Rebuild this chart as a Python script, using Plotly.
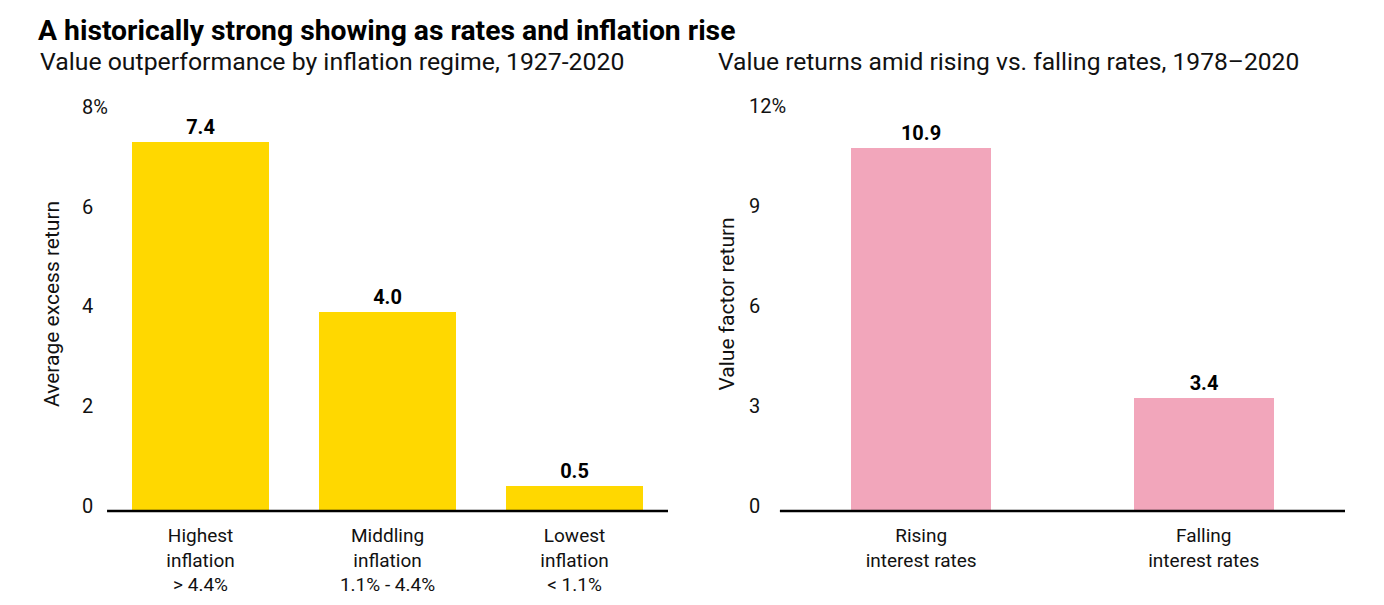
import plotly.graph_objects as go
from plotly.subplots import make_subplots

# left panel: value outperformance by inflation regime
inflation_labels = ["Highest<br>inflation<br>> 4.4%", "Middling<br>inflation<br>1.1% - 4.4%",
                    "Lowest<br>inflation<br>< 1.1%"]
inflation_values = [7.4, 4.0, 0.5]
inflation_ticks = [0, 2, 4, 6, 8]
inflation_ticktext = ["0", "2", "4", "6", "8%"]

# right panel: value returns amid rising vs falling rates
rates_labels = ["Rising<br>interest rates", "Falling<br>interest rates"]
rates_values = [10.9, 3.4]
rates_ticks = [0, 3, 6, 9, 12]
rates_ticktext = ["0", "3", "6", "9", "12%"]

FONT = "Roboto"
INK = "#111111"
W, H = 1384, 605


def px_x(p):
    return p / W


def px_y(p):
    return 1 - p / H


fig = make_subplots(rows=1, cols=2)

fig.add_trace(go.Bar(x=list(range(len(inflation_values))), y=inflation_values,
                     marker_color="#FFD800", marker_line_width=0, width=0.73,
                     texttemplate="<b>%{y:.1f}</b>", textposition="outside",
                     textfont=dict(size=20, color="#000000", family=FONT),
                     cliponaxis=False, showlegend=False), row=1, col=1)
fig.add_trace(go.Bar(x=list(range(len(rates_values))), y=rates_values,
                     marker_color="#F2A6BB", marker_line_width=0, width=0.495,
                     texttemplate="<b>%{y:.1f}</b>", textposition="outside",
                     textfont=dict(size=20, color="#000000", family=FONT),
                     cliponaxis=False, showlegend=False), row=1, col=2)

ydom = [px_y(518), px_y(73.9)]
tickfont = dict(size=19, color=INK, family=FONT)
ytickfont = dict(size=20, color=INK, family=FONT)
fig.update_layout(
    width=W, height=H, margin=dict(l=0, r=0, t=0, b=0),
    plot_bgcolor="white", paper_bgcolor="white",
    font=dict(family=FONT, color=INK, size=19),
    bargap=0,
    title=dict(text="<b>A historically strong showing as rates and inflation rise</b>",
               x=px_x(30), xanchor="left", y=px_y(22), yanchor="middle",
               font=dict(size=28.3, family=FONT, color="#000000")),
    xaxis=dict(domain=[px_x(71), px_x(660)], range=[-0.65, 2.5],
               tickvals=list(range(len(inflation_labels))), ticktext=inflation_labels,
               showgrid=False, zeroline=False, showline=False, ticks="",
               ticklabelstandoff=-4, tickfont=tickfont),
    xaxis2=dict(domain=[px_x(738), px_x(1337)], range=[-0.62, 1.5],
                tickvals=list(range(len(rates_labels))), ticktext=rates_labels,
                showgrid=False, zeroline=False, showline=False, ticks="",
                ticklabelstandoff=-4, tickfont=tickfont),
    yaxis=dict(domain=ydom, range=[-0.3, 8.6], tickvals=inflation_ticks, ticktext=inflation_ticktext,
               showgrid=False, zeroline=False, showline=False, ticks="",
               ticklabelposition="inside", ticklabelstandoff=0, ticklabelshift=-5,
               tickfont=ytickfont,
               title=dict(text="Average excess return", font=dict(size=21, color=INK), standoff=16)),
    yaxis2=dict(domain=ydom, range=[-0.45, 12.88], tickvals=rates_ticks, ticktext=rates_ticktext,
                showgrid=False, zeroline=False, showline=False, ticks="",
                ticklabelposition="inside", ticklabelstandoff=0, ticklabelshift=-5,
                tickfont=ytickfont,
                title=dict(text="Value factor return", font=dict(size=21, color=INK), standoff=8)),
)

# baselines under the bars
fig.add_shape(type="line", xref="x", yref="y", x0=-0.5, x1=len(inflation_values) - 0.5,
              y0=0, y1=0, line=dict(color="#000000", width=2.5))
fig.add_shape(type="line", xref="x2", yref="y2", x0=-0.5, x1=len(rates_values) - 0.5,
              y0=0, y1=0, line=dict(color="#000000", width=2.5))

# panel subtitles
fig.add_annotation(text="Value outperformance by inflation regime, 1927-2020",
                   xref="paper", yref="paper", x=px_x(30), y=px_y(54),
                   xanchor="left", yanchor="middle", showarrow=False,
                   font=dict(size=24.8, family=FONT, color=INK))
fig.add_annotation(text="Value returns amid rising vs. falling rates, 1978\u20132020",
                   xref="paper", yref="paper", x=px_x(708), y=px_y(54),
                   xanchor="left", yanchor="middle", showarrow=False,
                   font=dict(size=24.6, family=FONT, color=INK))

fig.write_html("out.html")
